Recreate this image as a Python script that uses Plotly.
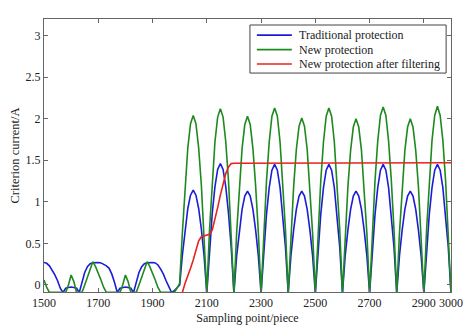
import plotly.graph_objects as go

# Sampling points (step 10) and series values
sample_points = list(range(1500, 3001, 10))

traditional_pre = [
    0.27, 0.26, 0.23, 0.18, 0.12, 0.05, -0.04, -0.09, -0.04, -0.03,
    -0.025, -0.03, -0.04, -0.09, 0.02, 0.15, 0.22, 0.255, 0.265, 0.27,
    0.27, 0.265, 0.25, 0.23, 0.20, 0.13, 0.03, -0.09, -0.04, -0.03,
    -0.025, -0.03, -0.04, -0.09, 0.02, 0.15, 0.22, 0.255, 0.265, 0.27,
    0.27, 0.265, 0.24, 0.19, 0.13, 0.05, -0.03, -0.09, -0.07, -0.04,
]
traditional_post = [
    0.0, 0.36, 0.67, 0.92, 1.08, 1.14, 1.08, 0.92, 0.67, 0.35,
    -0.1, 0.45, 0.86, 1.18, 1.39, 1.46, 1.39, 1.18, 0.86, 0.45,
    -0.1, 0.35, 0.66, 0.91, 1.07, 1.13, 1.07, 0.91, 0.66, 0.35,
    -0.1, 0.45, 0.85, 1.17, 1.38, 1.45, 1.38, 1.17, 0.85, 0.45,
    -0.1, 0.35, 0.66, 0.91, 1.07, 1.13, 1.07, 0.91, 0.66, 0.35,
    -0.1, 0.45, 0.85, 1.17, 1.38, 1.45, 1.38, 1.17, 0.85, 0.45,
    -0.1, 0.35, 0.66, 0.91, 1.07, 1.13, 1.07, 0.91, 0.66, 0.35,
    -0.1, 0.45, 0.85, 1.17, 1.38, 1.45, 1.38, 1.17, 0.85, 0.45,
    -0.1, 0.35, 0.66, 0.91, 1.07, 1.13, 1.07, 0.91, 0.66, 0.35,
    -0.1, 0.45, 0.85, 1.17, 1.38, 1.45, 1.38, 1.17, 0.85, 0.45,
    -0.1,
]

new_pre = [
    0.06, -0.03, -0.09, -0.09, -0.09, -0.09, -0.09, -0.09, -0.09, 0.0,
    0.12, 0.04, -0.09, -0.09, -0.09, 0.0, 0.09, 0.17, 0.28, 0.22,
    0.15, 0.06, -0.03, -0.09, -0.09, -0.09, -0.09, -0.09, -0.09, 0.0,
    0.12, 0.04, -0.09, -0.09, -0.09, 0.0, 0.09, 0.17, 0.28, 0.22,
    0.15, 0.06, -0.03, -0.09, -0.09, -0.09, -0.09, -0.09, -0.09, -0.04,
]
new_post = [
    0.02, 0.63, 1.20, 1.65, 1.94, 2.04, 1.94, 1.65, 1.20, 0.63,
    -0.1, 0.66, 1.25, 1.72, 2.02, 2.12, 2.02, 1.72, 1.25, 0.66,
    -0.1, 0.63, 1.19, 1.64, 1.93, 2.03, 1.93, 1.64, 1.19, 0.63,
    -0.1, 0.66, 1.25, 1.72, 2.03, 2.13, 2.03, 1.72, 1.25, 0.66,
    -0.1, 0.62, 1.18, 1.63, 1.91, 2.01, 1.91, 1.63, 1.18, 0.62,
    -0.1, 0.66, 1.25, 1.72, 2.03, 2.13, 2.03, 1.72, 1.25, 0.66,
    -0.1, 0.62, 1.18, 1.62, 1.90, 2.00, 1.90, 1.62, 1.18, 0.62,
    -0.1, 0.66, 1.26, 1.73, 2.04, 2.14, 2.04, 1.73, 1.26, 0.66,
    -0.1, 0.62, 1.18, 1.62, 1.90, 2.00, 1.90, 1.62, 1.18, 0.62,
    -0.1, 0.66, 1.26, 1.74, 2.04, 2.15, 2.04, 1.74, 1.26, 0.66,
    -0.1,
]

filtered_points = list(range(2000, 2200, 10)) + list(range(2200, 3001, 100))
filtered_values = [
    -0.15, -0.09, 0.02, 0.10, 0.20, 0.30, 0.43, 0.53, 0.58, 0.59,
    0.60, 0.61, 0.66, 0.78, 0.93, 1.08, 1.22, 1.34, 1.42, 1.46,
    1.465, 1.465, 1.465, 1.465, 1.465, 1.47, 1.47, 1.47, 1.47,
]

series_names = ["Traditional protection", "New protection", "New protection after filtering"]
series_colors = ["#1c1cd6", "#1e8a1e", "#e8231f"]

x_ticks = [1500, 1700, 1900, 2100, 2300, 2500, 2700, 2900, 3000]
y_ticks = [0, 0.5, 1, 1.5, 2, 2.5, 3]
y_tick_text = ["0", "0.5", "1", "1.5", "2", "2.5", "3"]

traditional = traditional_pre + traditional_post
new = new_pre + new_post

FONT = "Liberation Serif, Times New Roman, serif"
TXT = "#222222"

fig = go.Figure()
for xs, ys, name, color in [
    (sample_points, traditional, series_names[0], series_colors[0]),
    (sample_points, new, series_names[1], series_colors[1]),
    (filtered_points, filtered_values, series_names[2], series_colors[2]),
]:
    fig.add_trace(go.Scatter(x=xs, y=ys, mode="lines", name=name,
                             line=dict(color=color, width=1.6)))

axis_common = dict(showline=True, linecolor="#666666", linewidth=1, mirror="ticks",
                   ticks="inside", ticklen=4, tickcolor="#666666", showgrid=False,
                   zeroline=False, tickfont=dict(family=FONT, size=12, color=TXT))

fig.update_xaxes(range=[1500, 3000], tickvals=x_ticks,
                 title=dict(text="Sampling point/piece", font=dict(family=FONT, size=12, color=TXT), standoff=4),
                 **axis_common)
fig.update_yaxes(range=[-0.085, 3.2], tickvals=y_ticks, ticktext=y_tick_text,
                 title=dict(text="Criterion current/A", font=dict(family=FONT, size=12.5, color=TXT), standoff=3),
                 **axis_common)

# Compact legend box (drawn in paper coordinates)
shapes = [dict(type="rect", xref="paper", yref="paper", x0=0.506, x1=0.988, y0=0.802, y1=0.978,
               line=dict(color="#444444", width=1), fillcolor="white", layer="above")]
annotations = []
legend_rows = [0.941, 0.888, 0.835]
for row, name, color in zip(legend_rows, series_names, series_colors):
    shapes.append(dict(type="line", xref="paper", yref="paper", x0=0.523, x1=0.609, y0=row, y1=row,
                       line=dict(color=color, width=1.6), layer="above"))
    annotations.append(dict(text=name, xref="paper", yref="paper", x=0.621, y=row,
                            xanchor="left", yanchor="middle", showarrow=False,
                            font=dict(family=FONT, size=12, color=TXT)))

fig.update_layout(
    width=474, height=335,
    margin=dict(l=44, r=23, t=19, b=43),
    paper_bgcolor="white", plot_bgcolor="white",
    showlegend=False,
    shapes=shapes, annotations=annotations,
)

fig.write_html("out.html")
